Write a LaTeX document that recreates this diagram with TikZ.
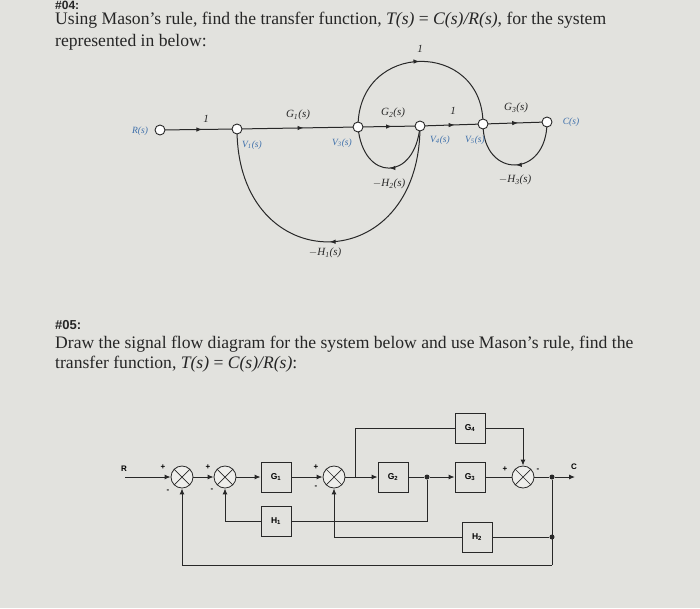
\documentclass[tikz,border=0pt]{standalone}
\usepackage{fontspec}
\setmainfont{Liberation Serif}
\newfontfamily\arialf{Liberation Sans}
\usetikzlibrary{decorations.markings,arrows.meta}
\definecolor{bg}{RGB}{226,226,222}
\definecolor{ink}{RGB}{40,40,40}
\definecolor{lbl}{RGB}{60,110,170}
\begin{document}
\begin{tikzpicture}[x=1pt,y=-1pt,
  sfnode/.style={circle,draw=ink,fill=white,line width=0.9pt,minimum size=10pt,inner sep=0pt},
  vlab/.style={text=lbl,font=\fontsize{9.5}{10}\selectfont\itshape,inner sep=1pt},
  glab/.style={text=ink,font=\fontsize{11}{12}\selectfont\itshape,inner sep=1pt},
  branch/.style={draw=ink,line width=1pt},
  midarrow/.style={postaction={decorate},decoration={markings,mark=at position #1 with {\arrow{Latex[length=6pt,width=4.5pt]}}}},
  sumj/.style={circle,draw=ink,line width=0.8pt,minimum size=22pt,inner sep=0pt,fill=bg!60!white,
    path picture={\draw[ink,line width=0.7pt] (path picture bounding box.north west)--(path picture bounding box.south east) (path picture bounding box.north east)--(path picture bounding box.south west);}},
  blk/.style={draw=ink,line width=0.8pt,minimum width=30pt,minimum height=30pt,inner sep=0pt,font=\arialf\bfseries\fontsize{8.5}{9}\selectfont},
  wire/.style={draw=ink,line width=1pt},
  arr/.style={wire,-{Latex[length=6pt,width=5pt]}},
  sgn/.style={font=\arialf\bfseries\fontsize{8}{8}\selectfont,inner sep=0pt},
  dot/.style={circle,fill=ink,minimum size=5pt,inner sep=0pt},
  ptext/.style={font=\fontsize{17.6}{19}\selectfont,anchor=west,inner sep=0pt,text=black!85}
]
\fill[bg] (0,0) rectangle (700,608);
\useasboundingbox (0,0) rectangle (700,608);
% texts
\node[ptext,font=\arialf\bfseries\fontsize{12}{13}\selectfont] (h4) at (55,5) {\#04:};
\node[ptext] (t1) at (55,20) {Using Mason's rule, find the transfer function, \textit{T(s)} = \textit{C(s)/R(s)}, for the system};
\node[ptext] (t2) at (55,42) {represented in below:};
\node[ptext,font=\arialf\bfseries\fontsize{13}{14}\selectfont] (h5) at (55,325) {\#05:};
\node[ptext] (t3) at (55,344) {Draw the signal flow diagram for the system below and use Mason's rule, find the};
\node[ptext] (t4) at (55,364) {transfer function, \textit{T(s)} = \textit{C(s)/R(s)}:};

% ---- top signal flow graph
\coordinate (pR) at (160,130);
\coordinate (p1) at (237,129);
\coordinate (p3) at (358,127);
\coordinate (p4) at (420,126);
\coordinate (p5) at (483,124);
\coordinate (pC) at (547,122);
\draw[branch,midarrow=0.55] (pR) -- (p1);
\draw[branch,midarrow=0.55] (p1) -- (p3);
\draw[branch,midarrow=0.55] (p3) -- (p4);
\draw[branch,midarrow=0.55] (p4) -- (p5);
\draw[branch,midarrow=0.55] (p5) -- (pC);
\draw[branch,midarrow=0.5] (p3) .. controls (358,40) and (483,40) .. (p5);
\draw[branch,midarrow=0.5] (p4) .. controls (415,182) and (363,182) .. (p3);
\draw[branch,midarrow=0.5] (pC) .. controls (547,179) and (483,179) .. (p5);
\draw[branch,midarrow=0.5] (p4) .. controls (420,280) and (237,280) .. (p1);
\node[sfnode] (nR) at (pR) {};
\node[sfnode] (n1) at (p1) {};
\node[sfnode] (n3) at (p3) {};
\node[sfnode] (n4) at (p4) {};
\node[sfnode] (n5) at (p5) {};
\node[sfnode] (nC) at (pC) {};
\node[vlab] (lR) at (140,131) {R(s)};
\node[vlab] (lC) at (571,122) {C(s)};
\node[vlab] (l1) at (252,145) {V\textsubscript{1}(s)};
\node[vlab] (l3) at (342,143) {V\textsubscript{3}(s)};
\node[vlab] (l4) at (440,140) {V\textsubscript{4}(s)};
\node[vlab] (l5) at (475,140) {V\textsubscript{5}(s)};
\node[glab] (g0) at (206,119) {1};
\node[glab] (g1) at (298,115) {G\textsubscript{1}(s)};
\node[glab] (g2) at (393,113) {G\textsubscript{2}(s)};
\node[glab] (g4) at (453,111) {1};
\node[glab] (g3) at (516,108) {G\textsubscript{3}(s)};
\node[glab] (gt) at (420,49) {1};
\node[glab] (h2) at (389,184) {$-$H\textsubscript{2}(s)};
\node[glab] (h3) at (515,180) {$-$H\textsubscript{3}(s)};
\node[glab] (h1) at (325,253) {$-$H\textsubscript{1}(s)};

% ---- bottom block diagram
\node[font=\arialf\bfseries\fontsize{8}{8}\selectfont] (R) at (124,469) {R};
\coordinate (Rin) at (125,477);
\node[sumj] (s1) at (182,477) {};
\node[sumj] (s2) at (225,477) {};
\node[blk] (G1) at (276,477) {G\textsubscript{1}};
\node[sumj] (s3) at (334,477) {};
\node[blk] (G2) at (393,477) {G\textsubscript{2}};
\node[dot] (d1) at (427,477) {};
\node[blk] (G3) at (470,477) {G\textsubscript{3}};
\node[blk] (G4) at (470,428) {G\textsubscript{4}};
\node[sumj] (s4) at (523,477) {};
\node[dot] (d2) at (552,477) {};
\node[dot] (d3) at (552,537) {};
\coordinate (d4) at (552,565);
\node[blk] (H1) at (276,521) {H\textsubscript{1}};
\node[blk] (H2) at (477,537) {H\textsubscript{2}};
\node[font=\arialf\bfseries\fontsize{8}{8}\selectfont] (C) at (574,467) {C};
\coordinate (Cout) at (575,477);
\coordinate (br) at (355,477);

\draw[arr] (Rin) -- (s1);
\draw[arr] (s1) -- (s2);
\draw[arr] (s2) -- (G1);
\draw[arr] (G1) -- (s3);
\draw[arr] (s3) -- (G2);
\draw[wire] (G2) -- (d1);
\draw[arr] (d1) -- (G3);
\draw[wire] (G3) -- (s4);
\draw[wire] (s4) -- (d2);
\draw[arr] (d2) -- (Cout);
\draw[wire] (br) |- (G4.west);
\draw[arr] (G4.east) -| (s4.north);
\draw[wire] (d1) |- (H1.east);
\draw[arr] (H1.west) -| (s2.south);
\draw[wire] (d2) -- (d4);
\draw[wire] (d3) -- (H2.east);
\draw[arr] (H2.west) -| (s3.south);
\draw[arr] (d4) -| (s1.south);
% signs
\node[sgn] at (163,467) {+};
\node[sgn] at (168,491) {-};
\node[sgn] at (208,467) {+};
\node[sgn] at (212,490) {-};
\node[sgn] at (316,467) {+};
\node[sgn] at (316,487) {-};
\node[sgn] at (505,469) {+};
\node[sgn] at (538,470) {-};
\end{tikzpicture}
\end{document}
